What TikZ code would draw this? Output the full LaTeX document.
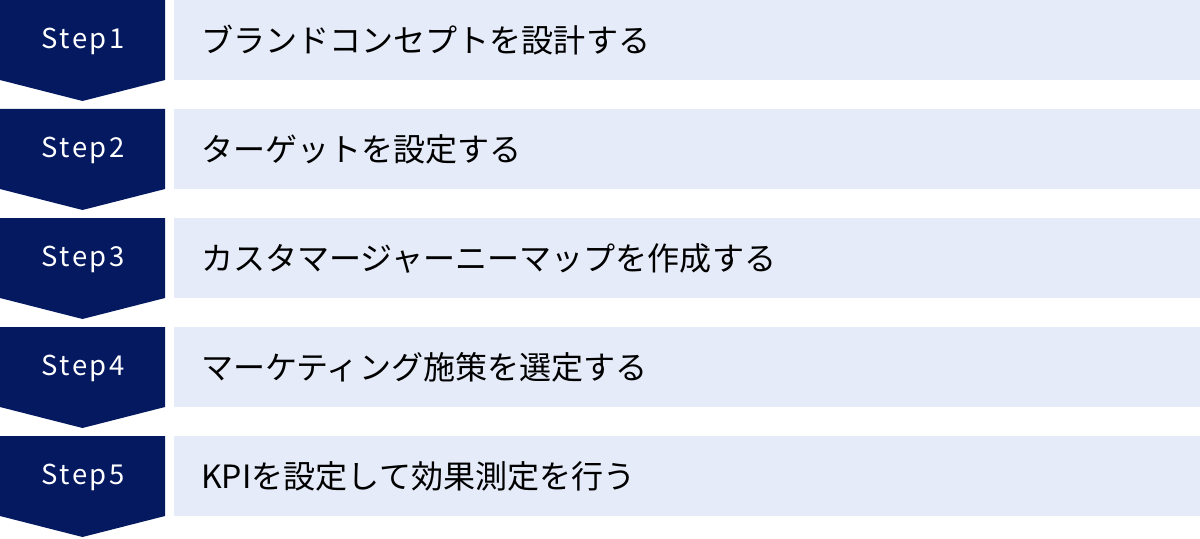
\documentclass[tikz,border=0pt]{standalone}
\usepackage{fontspec}
\setmainfont{Noto Sans CJK JP}
\newfontfamily\stepfont[LetterSpace=9]{Noto Sans CJK JP}
\usepackage{xcolor}
\usetikzlibrary{positioning}
\definecolor{stepnavy}{HTML}{041960}
\definecolor{rowfill}{HTML}{E5EBF8}

\begin{document}
\begin{tikzpicture}[
  x=0.025cm, y=-0.025cm,
  badge/.style={fill=stepnavy},
  steplabel/.style={text=white, font=\stepfont\fontsize{19.5}{22}\selectfont, inner sep=0pt},
  rowbox/.style={fill=rowfill, minimum width=25.65cm, minimum height=2cm, anchor=north west, inner sep=0pt},
  rowtext/.style={anchor=west, font=\fontsize{22.8}{26}\selectfont, inner sep=0pt}
]
\useasboundingbox (0,0) rectangle (1200,538);
% Steps and their tasks
\foreach \i/\task in {1/ブランドコンセプトを設計する,
                     2/ターゲットを設定する,
                     3/カスタマージャーニーマップを作成する,
                     4/マーケティング施策を選定する,
                     5/KPIを設定して効果測定を行う} {
  \pgfmathsetmacro{\top}{(\i-1)*109}
  % Chevron badge
  \fill[badge] (0,\top) -- ++(165,0) -- ++(0,80) -- ++(-82.5,21) -- ++(-82.5,-21) -- cycle;
  \node[steplabel] (step\i) at (83,\top+41) {Step\i};
  % Task box
  \node[rowbox] (box\i) at (174,\top) {};
  \node[rowtext] (task\i) at (201,\top+40) {\task};
}
\end{tikzpicture}
\end{document}
